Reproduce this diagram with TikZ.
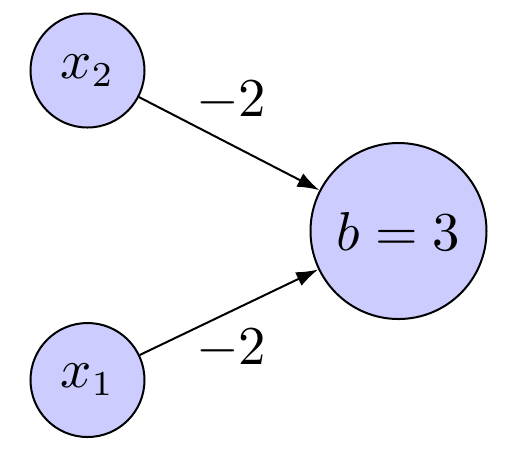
\documentclass[tikz,border=0pt]{standalone}
\usetikzlibrary{arrows.meta}
\begin{document}
\begin{tikzpicture}[x=0.2pt,y=-0.2pt,
  every node/.style={font=\fontsize{10.5}{12}\selectfont},
  neuron/.style={circle,draw=black,fill=blue!20,line width=0.4pt,inner sep=0pt},
  small/.style={neuron,minimum size=22.8pt},
  big/.style={neuron,minimum size=35.2pt},
  edge/.style={-{Latex[length=4.4pt,width=3pt]},line width=0.4pt},
  wlabel/.style={inner sep=0pt}]
\useasboundingbox (0,0) rectangle (507,457);
\node[small] (x2) at (87.5,70.5) {$x_2$};
\node[small] (x1) at (87.5,380) {$x_1$};
\node[big] (b) at (398.5,231) {$b=3$};
\draw[edge] (x2) -- (b);
\draw[edge] (x1) -- (b);
\node[wlabel] (l2) at (231,101) {$-2$};
\node[wlabel] (l1) at (231,349) {$-2$};
\end{tikzpicture}
\end{document}
